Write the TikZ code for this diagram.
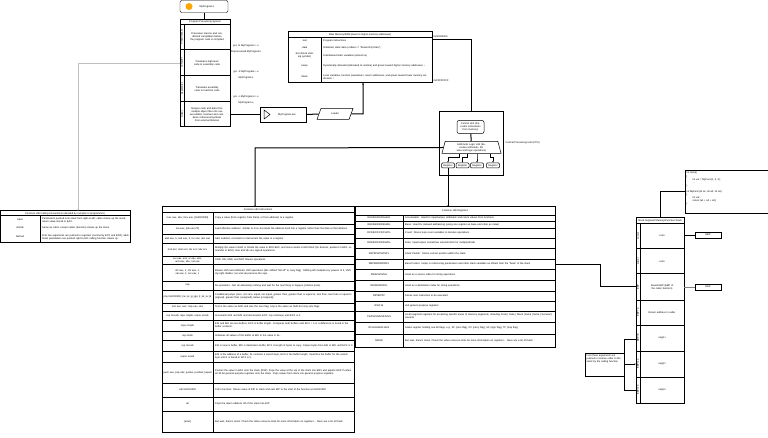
\documentclass[tikz,border=0pt]{standalone}
\usepackage{fontspec}
\setmainfont{Liberation Sans}
\usetikzlibrary{shapes.geometric,arrows.meta}
\newcommand\ft{\fontsize{2.5}{3}\selectfont}
\tikzset{
  ln/.style={draw, line width=0.6pt},
  thick1/.style={draw, line width=1pt},
  txt/.style={font=\ft, align=center, inner sep=0.5pt},
  txl/.style={font=\ft, align=left, inner sep=0.5pt},
  conn/.style={draw, line width=1pt},
  gconn/.style={draw=gray!50, line width=0.8pt},
}
% generic 2-column row: #1 name, #2 x1, #3 xm, #4 x2, #5 y1, #6 y2, #7 left, #8 right
\newcommand\trow[8]{%
  \draw[line width=0.6pt] (#2,#5) rectangle (#4,#6);
  \draw[line width=1pt] (#3,#5) -- (#3,#6);
  \pgfmathsetmacro\wl{#3-#2-3}\pgfmathsetmacro\wr{#4-#3-3}
  \node[txt, text width=\wl pt] (#1l) at ({(#2+#3)/2},{(#5+#6)/2}) {#7};
  \node[txl, text width=\wr pt, anchor=west] (#1r) at ({#3+1.5},{(#5+#6)/2}) {#8};
}
\begin{document}
\begin{tikzpicture}[x=1pt,y=-1pt]
\useasboundingbox[fill=white] (0,0) rectangle (768,438);

% ---------- top program file ----------
\node[draw, rounded corners=2pt, minimum width=48pt, minimum height=12pt, font=\ft] (src) at (204,6.5) {\hspace{6pt}MyProgram.c};
\fill[orange!70!yellow] (189,6.5) circle (3.5pt);

% ---------- pipeline ----------
\draw[line width=1pt] (180,20) rectangle (230,127);
\draw[line width=0.6pt] (180,24) -- (230,24);
\node[txt] (ph) at (205,22) {Program Processing System};
\draw[line width=0.8pt] (184,24) -- (184,127);
\foreach \a/\b in {50,76,102}{\draw[line width=1pt] (180,\a) -- (230,\a);}
\node[txt, rotate=90] (p1) at (182,37) {Preprocessor};
\node[txt, rotate=90] (p2) at (182,63) {Compiler};
\node[txt, rotate=90] (p3) at (182,89) {Assembler};
\node[txt, rotate=90] (p4) at (182,114.5) {Linker};
\node[txt, text width=40pt] (pd1) at (207,37) {Processes macros and conditional compilation before the program code is compiled};
\node[txt, text width=40pt] (pd2) at (207,63) {Translates high-level code to assembly code};
\node[txt, text width=40pt] (pd3) at (207,89) {Translates assembly code to machine code};
\node[txt, text width=40pt] (pd4) at (207,114.5) {Merges code and data from multiple object files into one executable; resolves and combines references/symbols from external libraries};
\draw[conn] (src) -- (204,20);
\node[txt] (c1) at (246,46) {gcc -E MyProgram.c -o};
\node[txt] (c1b) at (246,52) {Preprocessed MyProgram.i};
\node[txt] (c2) at (246,72) {gcc -S MyProgram.i -o};
\node[txt] (c2b) at (246,78) {MyProgram.s};
\node[txt] (c3) at (246,97) {gcc -c MyProgram.s -o};
\node[txt] (c3b) at (246,103) {MyProgram.o};

% executable and loader
\node[draw, line width=0.8pt, minimum width=46pt, minimum height=15pt, font=\ft] (exe) at (283,114.5) {\hspace{8pt}MyProgram.exe};
\draw[line width=0.5pt] (264,110) -- (264,119) -- (270,114.5) -- cycle;
\node[draw, trapezium, trapezium left angle=70, trapezium right angle=110, line width=0.5pt, minimum width=22pt, minimum height=11pt, inner sep=1pt, font=\ft] (ld) at (335,114) {Loader};
\draw[conn] (230,114.5) -- (exe.west);
\draw[conn] (exe.east) -- (ld.west);
\coordinate (mmb) at (363,84);
\draw[conn] (ld.east) -- (363,114) -- (mmb);
\fill (mmb) circle (0.8pt);

% ---------- main memory ----------
\draw[line width=1pt] (288,32) rectangle (432,83);
\node[txt] (mmh) at (360,35) {Main Memory/RAM (lower to higher memory addresses)};
\draw[line width=1pt] (288,38) -- (432,38);
\draw[line width=1pt] (321,38) -- (321,83);
\node[txt] (m1l) at (304.5,41) {.text};
\node[txl, anchor=west] (m1r) at (322.5,41) {Program instructions};
\node[txt] (m2l) at (304.5,47.5) {.data};
\node[txl, anchor=west] (m2r) at (322.5,47.5) {Initialized, static data (.rodata == "Read-Only Data")};
\node[txt, text width=30pt] (m3l) at (304.5,55.5) {.bss (block starting symbol)};
\node[txl, anchor=west] (m3r) at (322.5,55.5) {Uninitialized static variables (almost no)};
\node[txt] (m4l) at (304.5,65.5) {Heap};
\node[txl, anchor=west, text width=105pt] (m4r) at (322.5,65.5) {Dynamically allocated (allocated at runtime) and grows toward higher memory addresses ↓};
\node[txt] (m5l) at (304.5,77) {Stack};
\node[txl, anchor=west, text width=105pt] (m5r) at (322.5,77) {Local variables, function parameters, return addresses, and grows toward lower memory addresses ↑};
\node[txt, anchor=west] (a0) at (433,37) {0x00000000};
\node[txt, anchor=west] (a1) at (433,81) {0xFFFFFFFF};

% ---------- CPU ----------
\draw[line width=1pt] (439,112) rectangle (503,176);
\node[txt, anchor=west] (cpul) at (505,143) {Central Processing Unit (CPU)};
\node[draw, rounded corners=2pt, line width=0.5pt, minimum width=27pt, minimum height=13pt, txt, text width=25pt] (cu) at (470.5,127) {Control Unit (Decodes instructions from memory)};
\node[draw, trapezium, trapezium angle=75, line width=0.5pt, minimum width=40pt, minimum height=12pt, txt, text width=40pt] (alu) at (471.5,147.5) {Arithmetic Logic Unit (Executes arithmetic, bitwise and logic operations)};
\node[draw, rounded corners=1pt, line width=0.5pt, minimum width=13pt, minimum height=5pt, txt] (r1) at (448,165.5) {Register};
\node[draw, rounded corners=1pt, line width=0.5pt, minimum width=13pt, minimum height=5pt, txt] (r2) at (462.5,165.5) {Register};
\node[draw, rounded corners=1pt, line width=0.5pt, minimum width=13pt, minimum height=5pt, txt] (r3) at (477,165.5) {Register};
\node[draw, rounded corners=1pt, line width=0.5pt, minimum width=13pt, minimum height=5pt, txt] (r4) at (493,165.5) {Register};
\draw[conn] (cu) -- (alu);
\draw[conn, -{Latex[length=1.5pt]}] (459,154) -- (459,158) -- (448,158) -- (r1.north);
\draw[conn, -{Latex[length=1.5pt]}] (467,154) -- (467,158) -- (462.5,158) -- (r2.north);
\draw[conn, -{Latex[length=1.5pt]}] (477,154) -- (477,158) -- (r3.north);
\draw[conn, -{Latex[length=1.5pt]}] (490,154) -- (490,158) -- (493,158) -- (r4.north);
\draw[conn] (432,40) -- (471,40) -- (471,112);

% ---------- calling conventions ----------
\draw[line width=1pt] (0,211) rectangle (130,243);
\node[txt] (cch) at (65,213.5) {Common x86 Calling Conventions (decided by compiler or programmer)};
\draw[line width=1pt] (0,216) -- (130,216);
\draw[line width=1pt] (40,216) -- (40,243);
\node[txt] (cc1l) at (20,220) {cdecl};
\node[txl, anchor=west, text width=88pt] (cc1r) at (41.5,220) {Parameters pushed onto stack from right-to-left; caller cleans up the stack; return value stored in EAX.};
\node[txt] (cc2l) at (20,228) {stdcall};
\node[txl, anchor=west, text width=88pt] (cc2r) at (41.5,228) {Same as cdecl, except callee (function) cleans up the stack.};
\node[txt] (cc3l) at (20,237) {fastcall};
\node[txl, anchor=west, text width=88pt] (cc3r) at (41.5,237) {First two arguments are pushed to registers (commonly ECX and EDX); additional parameters are pushed right-to-left; calling function cleans up.};
\draw[gconn, -{Latex[length=1.5pt]}] (180,63) -- (78,63) -- (78,211);

% ---------- instructions ----------
\draw[line width=1pt] (162,207) rectangle (354,432);
\node[txt] (ih) at (258,209.5) {Common x86 Instructions};
\trow{i1}{162}{213}{354}{212}{224}{mov eax, ebx; mov eax, [0x0000000]}{Copy a value (from register, from literal, or from address) to a register}
\trow{i2}{162}{213}{354}{224}{234}{lea eax, [ebx+ecx*4]}{Load effective address: Similar to mov, but loads the address itself into a register rather than the data at that address.}
\trow{i3}{162}{213}{354}{234}{243}{add eax, 5; sub eax, 5; inc eax; dec eax}{Add, subtract, increment or decrement the value in a register}
\trow{i4}{162}{213}{354}{243}{256}{mul ecx; imul ecx; div ecx; idiv ecx}{Multiply the value in EAX or Divide the value in EDX:EAX, and store results in EDX:EAX (for division, quotient in EAX, remainder in EDX). imul and idiv are signed operations.}
\trow{i5}{162}{213}{354}{256}{264}{xor eax, eax; or eax, ebx; and eax, ebx; not eax}{XOR, OR, AND, and NOT bitwise operations}
\trow{i6}{162}{213}{354}{264}{281}{shl eax, 1; shr eax, 1; sal eax, 1; sar eax, 1}{Bitwise shift and arithmetic shift operations (bits shifted "fall off" to carry flag). Shifting left multiplies by powers of 2, shifting right divides; sar and sal preserve the sign.}
\trow{i7}{162}{213}{354}{281}{290}{nop}{No operation: Just do absolutely nothing and wait for the next thing to happen (rotation pass).}
\trow{i8}{162}{213}{354}{290}{303}{jmp 0x0000000; jne; je; jg; jge; jl; jle; ja; jb}{Conditional jumps (zero, not zero, equal, not equal, greater than, greater than or equal to, less than, less than or equal to (signed), greater than (unsigned), below (unsigned)).}
\trow{i9}{162}{213}{354}{303}{311}{test eax, eax; cmp eax, ebx}{Test is the same as AND and sets the zero flag; cmp is the same as SUB but only sets flags.}
\trow{i10}{162}{213}{354}{311}{320}{rep movsb; repe cmpsb; repne scasb}{Increments ESI and EDI and decrements ECX; rep continues until ECX is 0.}
\trow{i11}{162}{213}{354}{320}{331}{repe cmpsb}{ESI and EDI are two buffers, ECX is buffer length. Compares both buffers until ECX = 0 or a difference is found in the buffer contents.}
\trow{i12}{162}{213}{354}{331}{340}{rep stosb}{Initializes all values of the buffer at EDI to the value in AL.}
\trow{i13}{162}{213}{354}{340}{351}{rep movsb}{ESI is source buffer, EDI is destination buffer, ECX is length of bytes to copy. Copies bytes from ESI to EDI until ECX is 0.}
\trow{i14}{162}{213}{354}{351}{362}{repne scasb}{EDI is the address of a buffer, AL contains a search byte, ECX is the buffer length. Searches the buffer for the search byte until it is found or ECX is 0.}
\trow{i15}{162}{213}{354}{362}{383}{push eax; pop ebx; pushw; pushad; popad}{Pushes the value in EAX onto the stack (ESP). Pops the value at the top of the stack into EBX and adjusts ESP. Pushes all 32-bit general purpose registers onto the stack. Pops values from stack into general purpose registers.}
\trow{i16}{162}{213}{354}{383}{397}{call 0x0010000}{Call a function: Moves value of EIP to stack and sets EIP to the start of the function at 0x0010000}
\trow{i17}{162}{213}{354}{397}{411}{ret}{Pops the return address off of the stack into EIP}
\trow{i18}{162}{213}{354}{411}{432}{(etcet)}{But wait, there's more! Check the video resource links for more information on registers... there are a lot of them!}
\draw[conn, -{Latex[length=1.5pt]}] (alu.west) -- (255,148) -- (255,207);

% ---------- registers ----------
\draw[line width=1pt] (355,207) rectangle (555,347);
\node[txt] (rh) at (455,211) {Common x86 Registers};
\trow{g1}{355}{403}{555}{215}{221}{RAX/EAX/AX/AH/AL}{Accumulator: Used for input/output, arithmetic and return values from functions}
\trow{g2}{355}{403}{555}{221}{228}{RBX/EBX/BX/BH/BL}{Base: Used for indexed addressing (using one register as base and other as index)}
\trow{g3}{355}{403}{555}{228}{238}{RCX/ECX/CX/CH/CL}{Count: Stores loop count variables in iterative operations}
\trow{g4}{355}{403}{555}{238}{248}{RDX/EDX/DX/DH/DL}{Data: Input/output; sometimes extends RAX for multiply/divide}
\trow{g5}{355}{403}{555}{248}{259}{RSP/ESP/SP/SPL}{Stack Pointer: Stores current position within the stack}
\trow{g6}{355}{403}{555}{259}{269}{RBP/EBP/BP/BPL}{Base Pointer: Helps in referencing parameters and other stack variables as offsets from the "base" of the stack}
\trow{g7}{355}{403}{555}{269}{280}{RSI/ESI/SI/SIL}{Used as a source index for string operations}
\trow{g8}{355}{403}{555}{280}{291}{RDI/EDI/DI/DIL}{Used as a destination index for string operations}
\trow{g9}{355}{403}{555}{291}{301}{RIP/EIP/IP}{Stores next instruction to be executed}
\trow{g10}{355}{403}{555}{301}{311}{R8-R15}{x64 general purpose registers}
\trow{g11}{355}{403}{555}{311}{322}{CS/DS/SS/ES/FS/GS}{16-bit segment registers for accessing specific areas of memory segments, including Code | Data | Stack | Extra | Extra | General | General}
\trow{g12}{355}{403}{555}{322}{334}{RFLAGS/EFLAGS}{Status register holding one-bit flags, e.g. ZF (zero flag), CF (carry flag), SF (sign flag), TF (trap flag)}
\trow{g13}{355}{403}{555}{334}{347}{MOAR}{But wait, there's more! Check the video resource links for more information on registers... there are a lot of them!}
\draw[conn, -{Latex[length=1.5pt]}] (r1.south) -- (448,207);

% ---------- stack frame ----------
\draw[line width=1pt] (636,218) rectangle (684,403);
\node[txt] (sh) at (660,220.5) {Stack Segment Memory/Function Stack};
\draw[line width=0.8pt] (636,223) -- (684,223);
\draw[line width=0.8pt] (640,223) -- (640,403);
\foreach \yy in {249,274,300,325,351,377}{\draw[line width=1pt] (636,\yy) -- (684,\yy);}
\node[txt, rotate=90] (s1l) at (638,236) {Lower};
\node[txt, rotate=90] (s2l) at (638,261.5) {Lower};
\node[txt, rotate=90] (s3l) at (638,287) {EBP};
\node[txt, rotate=90] (s4l) at (638,312.5) {EBP+4};
\node[txt, rotate=90] (s5l) at (638,338) {EBP+8};
\node[txt, rotate=90] (s6l) at (638,364) {EBP+12};
\node[txt, rotate=90] (s7l) at (638,390) {EBP+16};
\node[txt] (s1) at (662,236) {<var>};
\node[txt] (s2) at (662,261.5) {<var>};
\node[txt, text width=38pt] (s3) at (662,287) {Saved EBP (EBP of the caller function)};
\node[txt, text width=40pt] (s4) at (662,312.5) {Return address in caller};
\node[txt] (s5) at (662,338) {<arg1>};
\node[txt] (s6) at (662,364) {<arg2>};
\node[txt] (s7) at (662,390) {<arg3>};
\node[draw, line width=0.8pt, minimum width=26pt, minimum height=6pt, inner sep=0pt, font=\ft] (ebp) at (708,235) {EBP};
\node[draw, line width=0.8pt, minimum width=26pt, minimum height=6pt, inner sep=0pt, font=\ft] (esp) at (708,287) {ESP};
\draw[line width=0.6pt] (684,235) -- (ebp.west);
\draw[gray, line width=0.4pt] (684,287) -- (esp.west);
\node[draw, line width=0.8pt, minimum width=84pt, minimum height=43pt, anchor=north west, inner sep=0pt] (code) at (685,170) {};
\node[txl, anchor=north west] (codet) at (686,171) {int main()\\[1pt]\{\\\hspace{6pt}int var = MyFunc(1, 2, 3);\\\hspace{6pt}...\\\}\\[3pt]int MyFunc(int a1, int a2, int a3)\\\{\\\hspace{6pt}int var;\\\hspace{6pt}return (a1 + a2 + a3);\\\}};
\draw[conn] (code.west |- 0,192) -- (660,192) -- (660,218);
\node[draw, line width=0.6pt, minimum width=39pt, minimum height=23pt, anchor=north west, inner sep=0pt] (args) at (585,353) {};
\node[txl, text width=37pt, anchor=north west] (argt) at (586,354) {First three arguments are pushed in reverse order to the stack by the calling function};
\draw[conn] (636,339) -- (624,339) -- (624,390) -- (636,390);
\draw[conn, -{Latex[length=1.5pt]}] (624,364) -- (636,364);
\draw[conn] (555,265) -- (600,265) -- (600,287) -- (636,287);
\end{tikzpicture}
\end{document}
